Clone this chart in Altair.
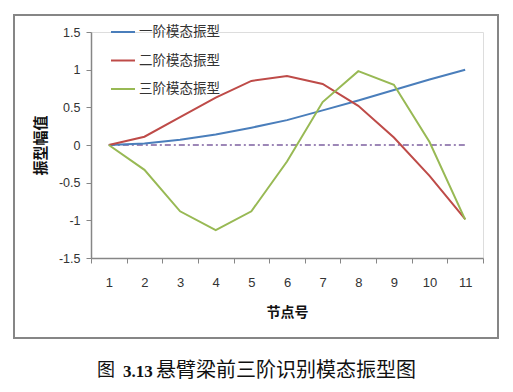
import altair as alt
import pandas as pd

nodes = [1, 2, 3, 4, 5, 6, 7, 8, 9, 10, 11]
mode1 = [0, 0.02, 0.07, 0.14, 0.23, 0.33, 0.46, 0.59, 0.73, 0.87, 1.0]
mode2 = [0, 0.11, 0.37, 0.63, 0.85, 0.915, 0.81, 0.52, 0.10, -0.41, -0.985]
mode3 = [0, -0.33, -0.88, -1.13, -0.88, -0.22, 0.57, 0.98, 0.80, 0.04, -0.99]
zero_line = [0, 0, 0, 0, 0, 0, 0, 0, 0, 0, 0]
series_names = ["一阶模态振型", "二阶模态振型", "三阶模态振型"]
series_colors = ["#4A7EBB", "#BE4B48", "#98B954"]
y_ticks = [-1.5, -1, -0.5, 0, 0.5, 1, 1.5]
x_title = "节点号"
y_title = "振型幅值"
caption_a = "图"
caption_b = "3.13"
caption_c = "悬臂梁前三阶识别模态振型图"

rows = []
for name, vals in zip(series_names, [mode1, mode2, mode3]):
    for n, v in zip(nodes, vals):
        rows.append({"node": n, "value": v, "series": name})
df = pd.DataFrame(rows)
dz = pd.DataFrame({"node": nodes, "value": zero_line})

CJK = "Noto Sans CJK SC"
AX = "#868686"

xaxis = alt.Axis(
    tickBand="extent", title=x_title, titleFont=CJK, titleFontSize=14,
    titleFontWeight="bold", titleColor="#111", titleX=196, titleY=54,
    titleAlign="center", titleBaseline="middle",
    labelAngle=0, labelFont="Liberation Sans", labelFontSize=13,
    labelColor="#333", labelPadding=13, tickSize=5, tickColor=AX,
    domainColor=AX, domainWidth=1.5, grid=False,
)
yaxis = alt.Axis(
    values=y_ticks, labelExpr="'' + datum.value",
    labelOverlap=False, labelBound=False, labelFlush=False,
    title=y_title,
    titleFont=CJK, titleFontSize=15, titleFontWeight="bold",
    titleColor="#111", titleX=-51, titleY=113, titleAngle=-90,
    titleAlign="center", titleBaseline="middle",
    labelFont="Liberation Sans", labelFontSize=12.5, labelColor="#333",
    labelPadding=6, tickSize=5, tickColor=AX, domainColor=AX,
    domainWidth=1.5, grid=False,
)
xscale = alt.Scale(type="band", paddingInner=0, paddingOuter=0)
yscale = alt.Scale(domain=[-1.5, 1.5], nice=False, zero=False)

lines = alt.Chart(df).mark_line(strokeWidth=2).encode(
    x=alt.X("node:O", bandPosition=0.5, scale=xscale, axis=xaxis),
    y=alt.Y("value:Q", scale=yscale, axis=yaxis),
    color=alt.Color(
        "series:N",
        scale=alt.Scale(domain=series_names, range=series_colors),
        legend=alt.Legend(
            orient="none", legendX=19, legendY=-13, title=None,
            symbolType="stroke", symbolSize=576, symbolStrokeWidth=2,
            labelFont=CJK, labelFontSize=13.5, labelColor="#333",
            rowPadding=8.5, labelOffset=3, padding=0,
        ),
    ),
    order="node:O",
)

zero = alt.Chart(dz).mark_line(
    strokeWidth=1.5, color="#7D60A0", strokeDash=[6, 3, 2, 3]
).encode(
    x=alt.X("node:O", bandPosition=0.5, scale=xscale, axis=xaxis),
    y=alt.Y("value:Q", scale=yscale, axis=yaxis),
)

frame = alt.Chart(pd.DataFrame({"f": [0]})).mark_rect(
    fillOpacity=0, stroke=AX, strokeWidth=2
).encode(
    x=alt.value(-77), x2=alt.value(407), y=alt.value(-17), y2=alt.value(306)
)

cap1 = alt.Chart(pd.DataFrame({"t": [caption_a]})).mark_text(
    font=CJK, fontSize=18, align="left", baseline="middle", color="#111"
).encode(x=alt.value(6), y=alt.value(339), text="t:N")
cap2 = alt.Chart(pd.DataFrame({"t": [caption_b]})).mark_text(
    font="Liberation Serif", fontSize=17, fontWeight="bold", align="left",
    baseline="middle", color="#111"
).encode(x=alt.value(32), y=alt.value(340), text="t:N")
cap3 = alt.Chart(pd.DataFrame({"t": [caption_c]})).mark_text(
    font=CJK, fontSize=20, align="left", baseline="middle", color="#111"
).encode(x=alt.value(65), y=alt.value(339), text="t:N")

chart = alt.layer(frame, zero, lines, cap1, cap2, cap3).properties(
    width=392, height=226,
    autosize=alt.AutoSizeParams(type="none"),
    padding={"left": 83, "top": 24, "right": 20, "bottom": 126},
).configure_view(stroke=None).configure(background="white")

chart.save("out.html", embed_options={"renderer": "svg", "actions": False})
